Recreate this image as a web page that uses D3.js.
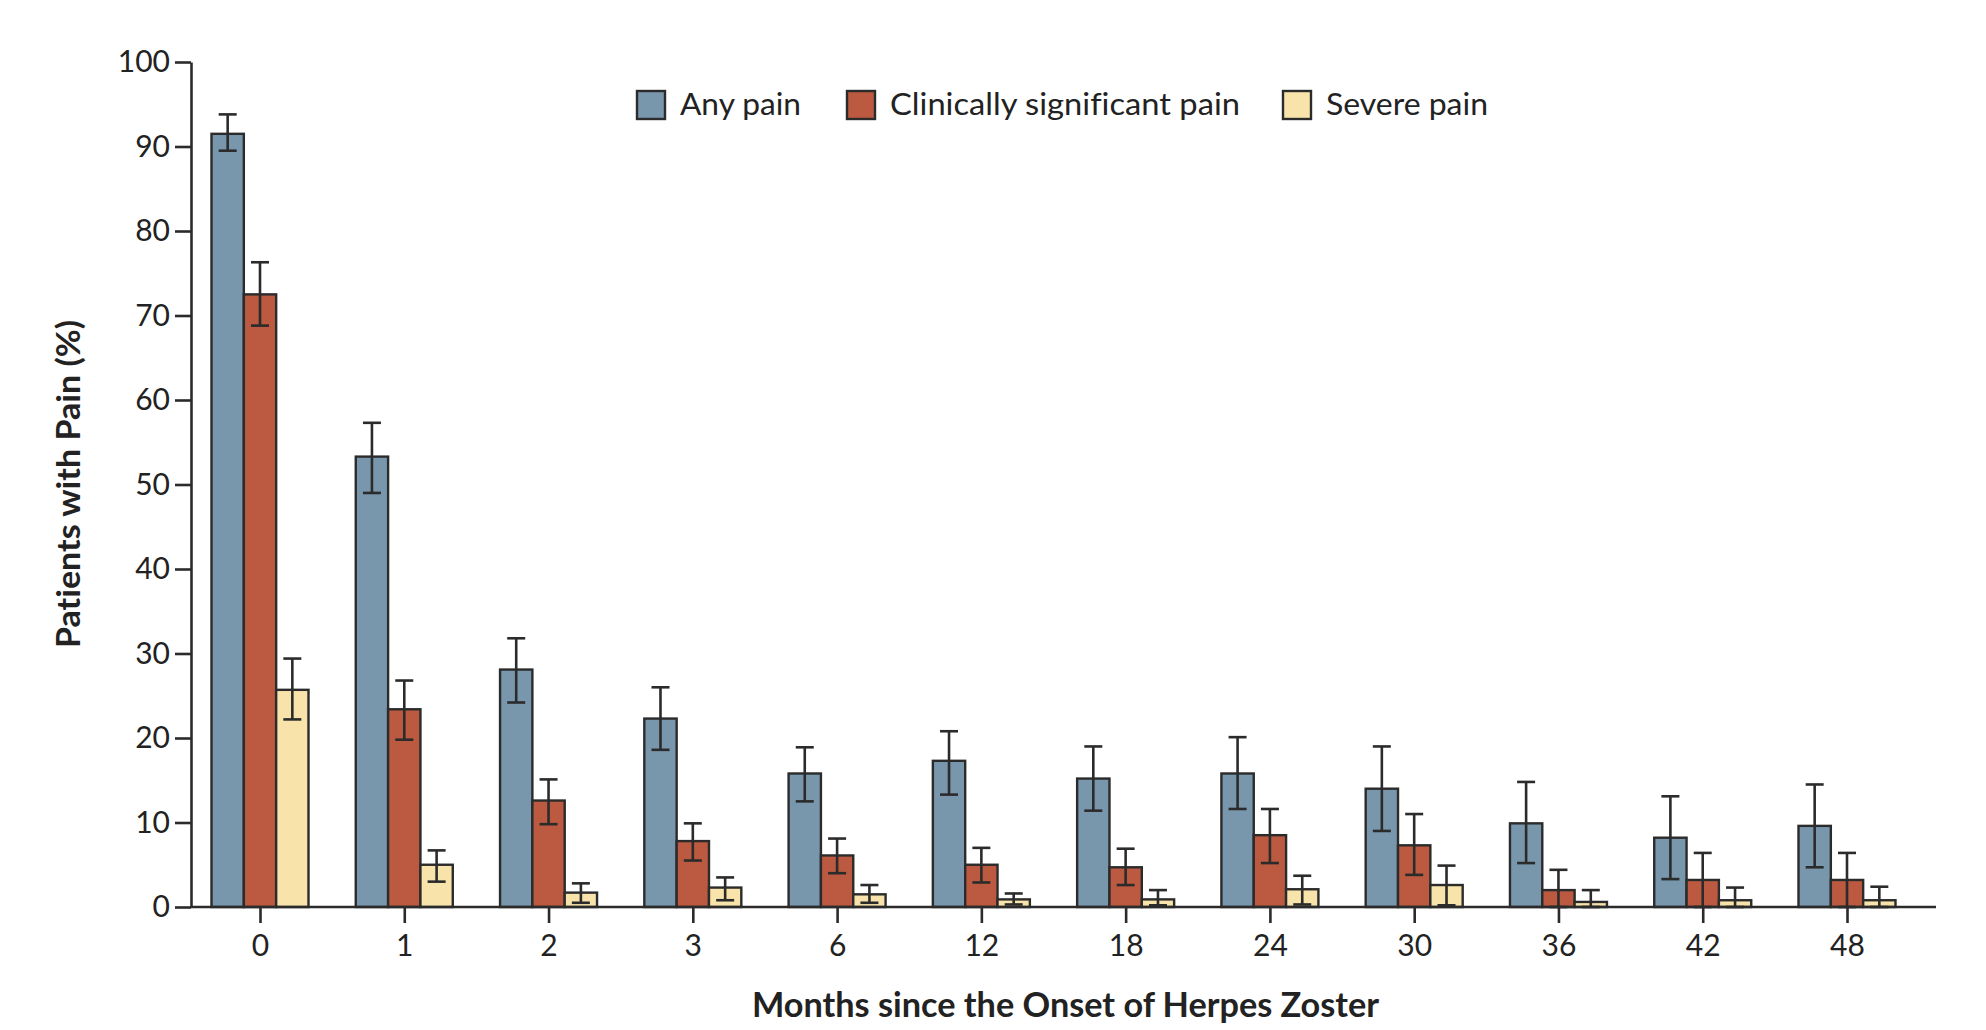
<!DOCTYPE html>
<html>
<head>
<meta charset="utf-8">
<script src="https://cdn.jsdelivr.net/npm/d3@7"></script>
<style>
  body { margin: 0; background: #fff; }
  svg { display: block; }
  text { font-variant-ligatures: none; }
</style>
</head>
<body>
<div id="chart"></div>
<script>
// Chart values
const months = ["0", "1", "2", "3", "6", "12", "18", "24", "30", "36", "42", "48"];
const seriesNames = ["Any pain", "Clinically significant pain", "Severe pain"];

const anyPain  = [91.5, 53.3, 28.1, 22.3, 15.8, 17.3, 15.2, 15.8, 14.0, 9.9, 8.2, 9.6];
const anyLow   = [89.5, 49.0, 24.2, 18.6, 12.5, 13.3, 11.4, 11.6, 9.0, 5.2, 3.3, 4.7];
const anyHigh  = [93.8, 57.3, 31.8, 26.0, 18.9, 20.8, 19.0, 20.1, 19.0, 14.8, 13.1, 14.5];

const clinPain = [72.5, 23.4, 12.6, 7.8, 6.1, 5.0, 4.7, 8.5, 7.3, 2.0, 3.2, 3.2];
const clinLow  = [68.8, 19.8, 9.8, 5.5, 4.0, 2.9, 2.6, 5.2, 3.8, 0, 0, 0];
const clinHigh = [76.3, 26.8, 15.1, 9.9, 8.1, 7.0, 6.9, 11.6, 11.0, 4.4, 6.4, 6.4];

const sevPain  = [25.7, 5.0, 1.7, 2.3, 1.5, 0.9, 0.9, 2.1, 2.6, 0.6, 0.8, 0.8];
const sevLow   = [22.2, 3.0, 0.5, 0.8, 0.5, 0.3, 0.2, 0.3, 0.2, 0, 0, 0];
const sevHigh  = [29.4, 6.7, 2.8, 3.5, 2.6, 1.6, 2.0, 3.7, 4.9, 2.0, 2.3, 2.4];

const yTicks = [0, 10, 20, 30, 40, 50, 60, 70, 80, 90, 100];

const colors = ["#7897ad", "#bb5a40", "#f8e4ab"];
const ink = "#2b2b2b";

// Size of the page
const width = 1986;
const height = 1030;

const svg = d3.select("#chart")
  .append("svg")
  .attr("width", width)
  .attr("height", height);

// Build rows for drawing
const values = [anyPain, clinPain, sevPain];
const lows = [anyLow, clinLow, sevLow];
const highs = [anyHigh, clinHigh, sevHigh];

const rows = [];
months.forEach((m, i) => {
  seriesNames.forEach((s, j) => {
    rows.push({ month: m, series: s, idx: j, value: values[j][i], low: lows[j][i], high: highs[j][i] });
  });
});

// Scales
const x0 = d3.scalePoint().domain(months).range([260, 1847]);
const x1 = d3.scaleBand().domain(seriesNames).range([-48.5, 48.5]).padding(0);
const y = d3.scaleLinear().domain([0, 100]).range([907, 62]);

// Bars
svg.append("g")
  .selectAll("rect")
  .data(rows)
  .enter()
  .append("rect")
  .attr("x", d => x0(d.month) + x1(d.series))
  .attr("y", d => y(d.value))
  .attr("width", x1.bandwidth())
  .attr("height", d => y(0) - y(d.value))
  .attr("fill", d => colors[d.idx])
  .attr("stroke", ink)
  .attr("stroke-width", 2.4);

// Error bars
const capHalf = 9;
const err = svg.append("g")
  .attr("stroke", ink)
  .attr("stroke-width", 2.6)
  .selectAll("g")
  .data(rows)
  .enter()
  .append("g")
  .attr("transform", d => `translate(${x0(d.month) + x1(d.series) + x1.bandwidth() / 2},0)`);

err.append("line")
  .attr("y1", d => y(d.low))
  .attr("y2", d => y(d.high));
err.append("line")
  .attr("x1", -capHalf).attr("x2", capHalf)
  .attr("y1", d => y(d.high)).attr("y2", d => y(d.high));
err.append("line")
  .attr("x1", -capHalf).attr("x2", capHalf)
  .attr("y1", d => y(d.low)).attr("y2", d => y(d.low));

// Y axis
const yAxis = svg.append("g")
  .attr("transform", "translate(191,0)")
  .call(d3.axisLeft(y).tickValues(yTicks).tickSize(16).tickSizeOuter(0).tickPadding(5));

// X axis
const xAxis = svg.append("g")
  .attr("transform", `translate(0,${y(0)})`)
  .call(d3.axisBottom(x0).tickSize(16).tickSizeOuter(0).tickPadding(12));
xAxis.select(".domain").remove();
xAxis.append("line")
  .attr("x1", 191).attr("x2", 1936)
  .attr("stroke", ink)
  .attr("stroke-width", 2.6);

[yAxis, xAxis].forEach(a => {
  a.selectAll(".domain, .tick line").attr("stroke", ink).attr("stroke-width", 2.6);
  a.selectAll("text")
    .attr("fill", "#222")
    .attr("font-family", "Lato")
    .attr("font-size", 30);
});

// Axis titles
svg.append("text")
  .attr("x", 752)
  .attr("y", 1017)
  .attr("font-family", "Lato")
  .attr("font-weight", "bold")
  .attr("font-size", 35)
  .attr("fill", "#222")
  .attr("textLength", 627)
  .attr("lengthAdjust", "spacingAndGlyphs")
  .text("Months since the Onset of Herpes Zoster");

svg.append("text")
  .attr("transform", "translate(80,648) rotate(-90)")
  .attr("font-family", "Lato")
  .attr("font-weight", "bold")
  .attr("font-size", 32)
  .attr("fill", "#222")
  .attr("textLength", 328)
  .attr("lengthAdjust", "spacingAndGlyphs")
  .text("Patients with Pain (%)");

// Legend
const legendX = [637, 847, 1283];
const legendW = [121, 350, 162];
const legend = svg.append("g")
  .selectAll("g")
  .data(seriesNames)
  .enter()
  .append("g")
  .attr("transform", (d, i) => `translate(${legendX[i]},91)`);

legend.append("rect")
  .attr("width", 28)
  .attr("height", 28)
  .attr("fill", (d, i) => colors[i])
  .attr("stroke", ink)
  .attr("stroke-width", 2.4);

legend.append("text")
  .attr("x", 43)
  .attr("y", 24)
  .attr("font-family", "Lato")
  .attr("font-size", 30)
  .attr("fill", "#222")
  .attr("textLength", (d, i) => legendW[i])
  .attr("lengthAdjust", "spacingAndGlyphs")
  .text(d => d);
</script>
</body>
</html>
